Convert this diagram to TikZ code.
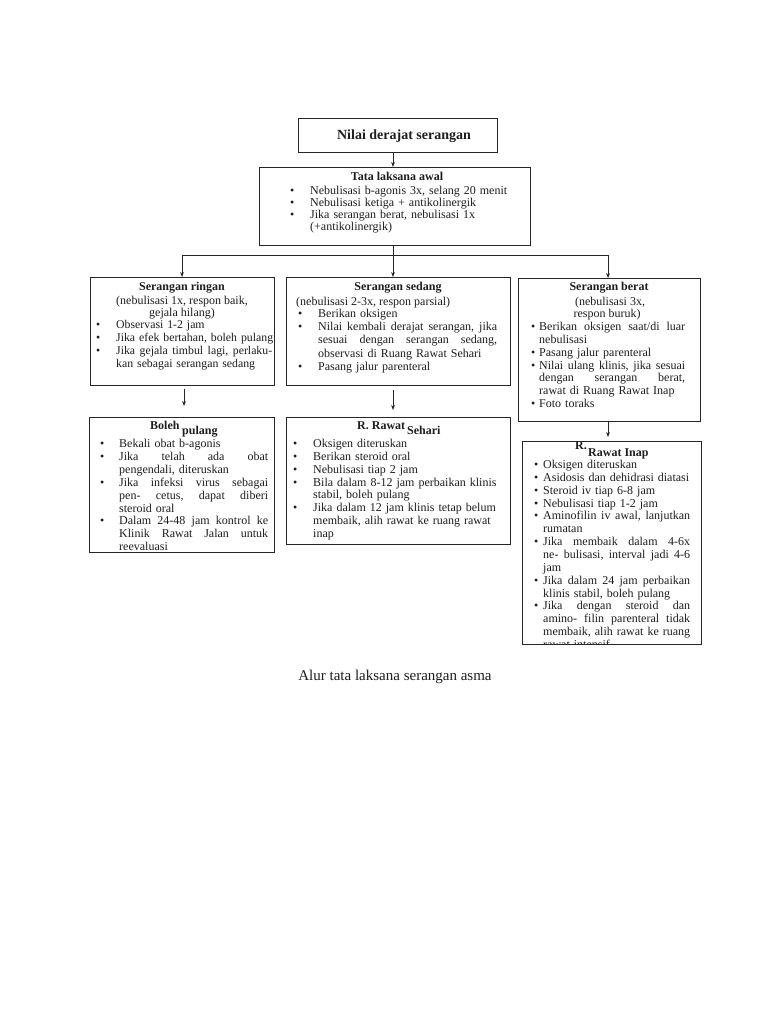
\documentclass[tikz,border=0pt]{standalone}
\usepackage{fontspec}
\setmainfont{Liberation Serif}
\usetikzlibrary{arrows.meta}
\definecolor{ink}{HTML}{1E1E1E}
\definecolor{frame}{HTML}{262626}
\setlength\parskip{0pt}
\newlength\bg
\newcommand\J[2]{\hbox to #1{#2}}
\newcommand\bl[1]{\noindent\makebox[\bg][l]{\textbullet}\mbox{#1}\par}
\newcommand\cn[1]{\noindent\hspace*{\bg}\mbox{#1}\par}
\tikzset{
  box/.style={draw=frame, line width=0.9pt, inner sep=0pt, outer sep=0pt, anchor=north west},
  hd/.style={font=\fontsize{12}{13}\selectfont\bfseries, text=ink, anchor=base, inner sep=0pt},
  hdw/.style={hd, anchor=base west},
  tx/.style={font=\fontsize{12}{13}\selectfont, text=ink, anchor=base, inner sep=0pt},
  body/.style={text=ink, anchor=base west, inner sep=0pt},
  conn/.style={draw=frame, line width=0.8pt},
  arr/.style={conn, -{Stealth[length=5pt,width=3.8pt]}}
}
\begin{document}
\begin{tikzpicture}[x=1pt,y=-1pt]
\fill[white] (0,0) rectangle (768,1024);
\useasboundingbox (0,0) rectangle (768,1024);

% boxes
\node[box, minimum width=199pt, minimum height=34pt] (nilai) at (298,118) {};
\node[box, minimum width=271pt, minimum height=78pt] (awal) at (259,167) {};
\node[box, minimum width=184pt, minimum height=108pt] (ringan) at (90,277) {};
\node[box, minimum width=224pt, minimum height=108pt] (sedang) at (286,277) {};
\node[box, minimum width=182pt, minimum height=143pt] (berat) at (518,278) {};
\node[box, minimum width=185pt, minimum height=135pt] (boleh) at (89,417) {};
\node[box, minimum width=224pt, minimum height=127pt] (sehari) at (286,417) {};
\node[box, minimum width=179pt, minimum height=203pt] (inap) at (522,441) {};

% helper coordinates
\coordinate (xa) at (393,0);
\coordinate (xl) at (182,0);
\coordinate (xr) at (608,0);
\coordinate (xb) at (184,0);
\coordinate (bus) at (0,255);

% connectors
\draw[arr] (nilai.south -| xa) -- (awal.north -| xa);
\draw[conn] (awal.south -| xa) -- (bus -| xa);
\draw[conn] (bus -| xl) -- (bus -| xr);
\draw[arr] (bus -| xl) -- (ringan.north -| xl);
\draw[arr] (bus -| xa) -- (sedang.north -| xa);
\draw[arr] (bus -| xr) -- (berat.north -| xr);
\draw[arr, shorten <=4pt, shorten >=11pt] (ringan.south -| xb) -- (boleh.north -| xb);
\draw[arr, shorten <=5pt, shorten >=7pt] (sedang.south -| xa) -- (sehari.north -| xa);
\draw[arr, shorten <=1pt, shorten >=4pt] (berat.south -| xr) -- (inap.north -| xr);

% title
\node[hd, font=\fontsize{14}{16}\selectfont\bfseries] (nilai-t) at (404,139.5) {Nilai derajat serangan};

% tata laksana awal
\node[hd] (awal-h) at (397,181) {Tata laksana awal};
\node[body, text width=232pt, font=\fontsize{12}{12}\selectfont] (awal-b) at (290,195) {%
\setlength\bg{20pt}%
\bl{Nebulisasi b-agonis 3x, selang 20 menit}%
\bl{Nebulisasi ketiga + antikolinergik}%
\bl{Jika serangan berat, nebulisasi 1x}%
\cn{(+antikolinergik)}};

% serangan ringan
\node[hd] (ringan-h) at (182,290) {Serangan ringan};
\node[tx] (ringan-s1) at (182,304) {(nebulisasi 1x, respon baik,};
\node[tx] (ringan-s2) at (182,316.3) {gejala hilang)};
\node[body, text width=176pt, font=\fontsize{11.8}{13}\selectfont] (ringan-b) at (96,328.3) {%
\setlength\bg{20pt}%
\bl{Observasi 1-2 jam}%
\bl{Jika efek bertahan, boleh pulang}%
\bl{\J{156pt}{Jika \hfill gejala \hfill timbul \hfill lagi, \hfill perlaku-}}%
\cn{kan sebagai serangan sedang}};

% serangan sedang
\node[hd] (sedang-h) at (398,290) {Serangan sedang};
\node[tx, anchor=base west] (sedang-s1) at (296,305.5) {(nebulisasi 2-3x, respon parsial)};
\node[body, text width=199pt, font=\fontsize{12}{13.3}\selectfont] (sedang-b) at (298,317.3) {%
\setlength\bg{20pt}%
\bl{Berikan oksigen}%
\bl{\J{179pt}{Nilai \hfill kembali \hfill derajat \hfill serangan, \hfill jika}}%
\cn{\J{179pt}{sesuai \hfill dengan \hfill serangan \hfill sedang,}}%
\cn{observasi di Ruang Rawat Sehari}%
\bl{Pasang jalur parenteral}};

% serangan berat
\node[hd] (berat-h) at (609,290.5) {Serangan berat};
\node[tx] (berat-s1) at (610,305.5) {(nebulisasi 3x,};
\node[tx] (berat-s2) at (607,317.3) {respon buruk)};
\node[body, text width=154pt, font=\fontsize{12}{12.77}\selectfont] (berat-b) at (531,330.7) {%
\setlength\bg{8pt}%
\bl{\J{146pt}{Berikan \hfill oksigen \hfill saat/di \hfill luar}}%
\cn{nebulisasi}%
\bl{Pasang jalur parenteral}%
\bl{\J{146pt}{Nilai \hfill ulang \hfill klinis, \hfill jika \hfill sesuai}}%
\cn{\J{146pt}{dengan \hfill serangan \hfill berat,}}%
\cn{rawat di Ruang Rawat Inap}%
\bl{Foto toraks}};

% boleh pulang
\node[hdw] (boleh-h1) at (150,429.3) {Boleh};
\node[hdw] (boleh-h2) at (182,434.8) {pulang};
\node[body, text width=168pt, font=\fontsize{12}{12.9}\selectfont] (boleh-b) at (100,447.5) {%
\setlength\bg{19pt}%
\bl{Bekali obat b-agonis}%
\bl{\J{149pt}{Jika \hfill telah \hfill ada \hfill obat}}%
\cn{pengendali, diteruskan}%
\bl{\J{149pt}{Jika \hfill infeksi \hfill virus \hfill sebagai}}%
\cn{\J{149pt}{pen- \hfill cetus, \hfill dapat \hfill diberi}}%
\cn{steroid oral}%
\bl{\J{149pt}{Dalam \hfill 24-48 \hfill jam \hfill kontrol \hfill ke}}%
\cn{\J{149pt}{Klinik \hfill Rawat \hfill Jalan \hfill untuk}}%
\cn{reevaluasi}};

% r. rawat sehari
\node[hdw] (sehari-h1) at (357,429.3) {R. Rawat};
\node[hdw] (sehari-h2) at (407,434.8) {Sehari};
\node[body, text width=207pt, font=\fontsize{12}{12.86}\selectfont] (sehari-b) at (293,447.5) {%
\setlength\bg{20pt}%
\bl{Oksigen diteruskan}%
\bl{Berikan steroid oral}%
\bl{Nebulisasi tiap 2 jam}%
\bl{Bila dalam 8-12 jam perbaikan klinis}%
\cn{stabil, boleh pulang}%
\bl{Jika dalam 12 jam klinis tetap belum}%
\cn{membaik, alih rawat ke ruang rawat}%
\cn{inap}};

% r. rawat inap
\node[hdw] (inap-h1) at (575,449) {R.};
\node[hdw] (inap-h2) at (588,456.5) {Rawat Inap};
\begin{scope}
\clip (inap.north west) rectangle (inap.south east);
\node[body, text width=156pt, font=\fontsize{12}{12.85}\selectfont] (inap-b) at (534,468.5) {%
\setlength\bg{9pt}%
\bl{Oksigen diteruskan}%
\bl{Asidosis dan dehidrasi diatasi}%
\bl{Steroid iv tiap 6-8 jam}%
\bl{Nebulisasi tiap 1-2 jam}%
\bl{\J{147pt}{Aminofilin \hfill iv \hfill awal, \hfill lanjutkan}}%
\cn{rumatan}%
\bl{\J{147pt}{Jika \hfill membaik \hfill dalam \hfill 4-6x}}%
\cn{\J{147pt}{ne- \hfill bulisasi, \hfill interval \hfill jadi \hfill 4-6}}%
\cn{jam}%
\bl{\J{147pt}{Jika \hfill dalam \hfill 24 \hfill jam \hfill perbaikan}}%
\cn{klinis stabil, boleh pulang}%
\bl{\J{147pt}{Jika \hfill dengan \hfill steroid \hfill dan}}%
\cn{\J{147pt}{amino- \hfill filin \hfill parenteral \hfill tidak}}%
\cn{\J{147pt}{membaik, \hfill alih \hfill rawat \hfill ke \hfill ruang}}%
\cn{rawat intensif}};
\end{scope}
\node[box, minimum width=179pt, minimum height=203pt] (inap-frame) at (522,441) {};

% caption
\node[tx, font=\fontsize{15}{17}\selectfont] (caption) at (395,680) {Alur tata laksana serangan asma};
\end{tikzpicture}
\end{document}
